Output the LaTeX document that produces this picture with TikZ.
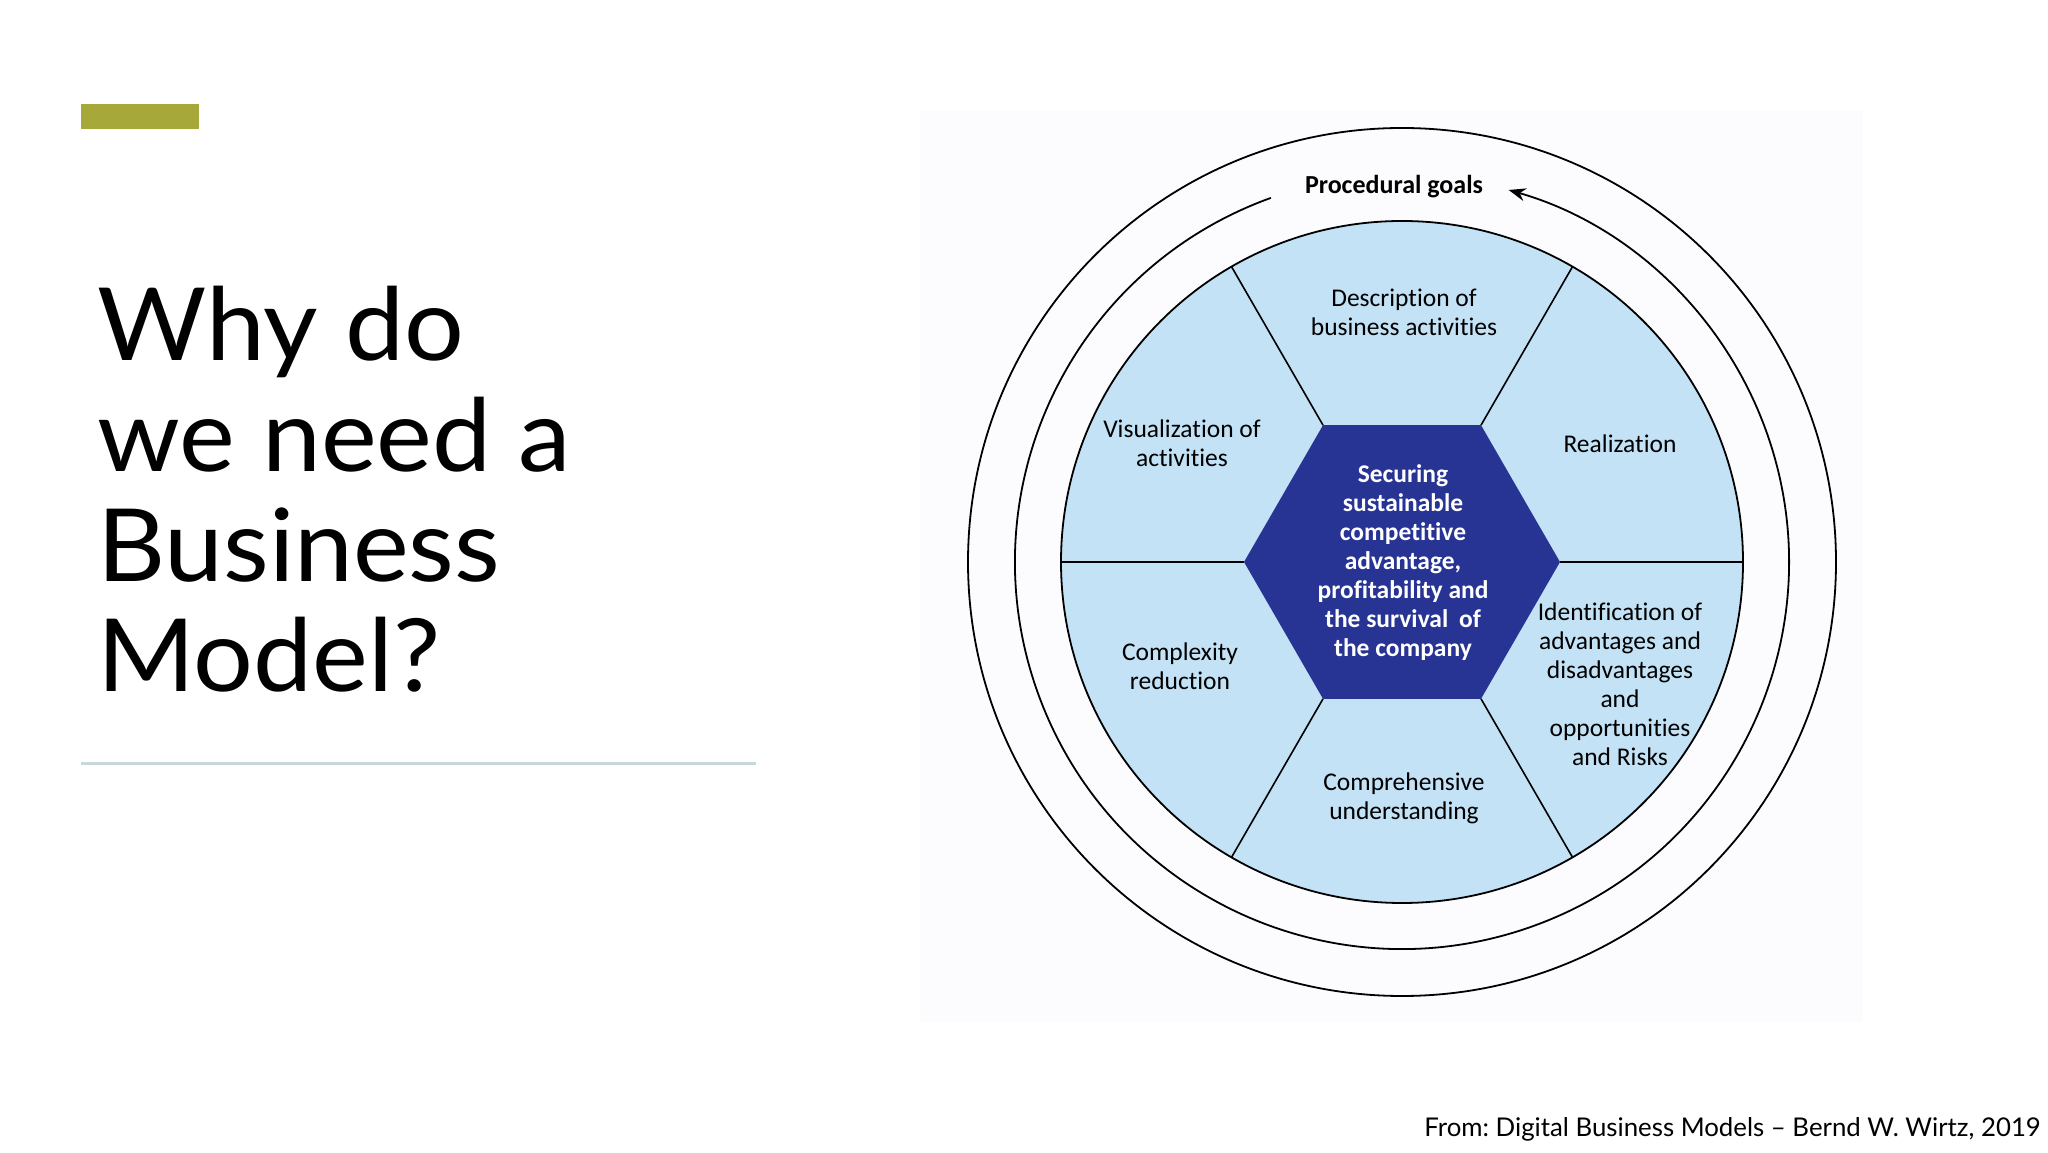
\documentclass[tikz,border=0pt]{standalone}
\usepackage{fontspec}
\setmainfont{Carlito}[Ligatures={TeX,NoCommon,NoRequired,NoContextual,NoDiscretionary},Contextuals=NoAlternate]
\newfontfamily\titlefont{Lato}[FakeStretch=1.045]
\newfontfamily\srcfont{Lato}
\frenchspacing
\usetikzlibrary{arrows.meta,calc}
\definecolor{lightfill}{RGB}{195,226,246}
\definecolor{hexblue}{RGB}{40,52,148}
\definecolor{grayline}{RGB}{200,214,222}
\definecolor{olivebar}{RGB}{166,168,58}
\definecolor{bgpanel}{RGB}{252,252,254}
\begin{document}
\begin{tikzpicture}[x=1pt,y=1pt,
  ring/.style={draw=black,line width=1.8pt},
  lbl/.style={font=\fontsize{25.5}{29}\selectfont,align=center,inner sep=0pt,text=black},
  clbl/.style={font=\fontsize{25.5}{29}\selectfont\bfseries,align=center,inner sep=0pt,text=white},
  titleline/.style={font=\titlefont\fontsize{101}{110}\selectfont,anchor=base west,inner sep=0pt}]
\useasboundingbox (0,0) rectangle (2048,1152);
\fill[white] (0,0) rectangle (2048,1152);
\fill[bgpanel] (920,130) rectangle (1863,1041);
% left side
\fill[olivebar] (81,1023) rectangle (199,1048);
\node[titleline] (t1) at (97,791) {Why do};
\node[titleline] (t2) at (97,680) {we need a};
\node[titleline] (t3) at (97,570) {Business};
\node[titleline] (t4) at (97,460) {Model?};
\coordinate (gl1) at (81,388);
\coordinate (gl2) at (756,388);
\draw[grayline,line width=3pt] (gl1) -- (gl2);
\node[font=\srcfont\fontsize{25.8}{31}\selectfont,anchor=base east,inner sep=0pt] (src) at (2041,16) {From: Digital Business Models – Bernd W. Wirtz, 2019};
% diagram
\coordinate (C) at (1402,590);
\draw[ring] (C) circle (434);
\coordinate (arcstart) at ($(C)+(109.8:387)$);
\draw[ring,-{Stealth[length=17pt,width=13pt]}] (arcstart) arc (109.8:434:387);
\fill[lightfill] (C) circle (341);
\draw[ring] (C) circle (341);
\foreach \a [count=\i] in {0,60,...,300} {
  \coordinate (h\i) at ($(C)+(\a:158)$);
  \coordinate (o\i) at ($(C)+(\a:341)$);
  \draw[black,line width=1.6pt] (h\i) -- (o\i);
}
\fill[hexblue] (h1) -- (h2) -- (h3) -- (h4) -- (h5) -- (h6) -- cycle;
\node[font=\fontsize{26}{30}\selectfont\bfseries,anchor=base,inner sep=0pt] (proc) at (1394,958) {Procedural goals};
\node[lbl] (desc) at (1404,840) {Description of\\business activities};
\node[lbl] (vis) at (1182,709) {Visualization of\\activities};
\node[lbl] (real) at (1620,708) {Realization};
\node[lbl] (cplx) at (1180,486) {Complexity\\reduction};
\node[lbl] (compr) at (1404,354) {Comprehensive\\understanding};
\node[lbl] (ident) at (1620,468) {Identification of\\advantages and\\disadvantages\\and\\opportunities\\and Risks};
\node[clbl] (core) at (1403,589) {Securing\\sustainable\\competitive\\advantage,\\profitability and\\the survival\hspace{5pt} of\\the company};
\end{tikzpicture}
\end{document}
